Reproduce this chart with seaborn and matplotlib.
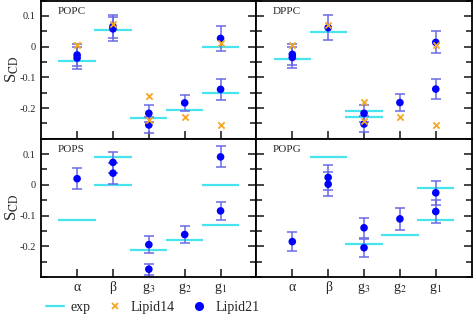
import numpy as np
import pandas as pd
import matplotlib
matplotlib.use("Agg")
import matplotlib.pyplot as plt
import seaborn as sns
from matplotlib.lines import Line2D
from matplotlib.ticker import MultipleLocator

sns.set_style("ticks")
plt.rcParams['font.family'] = ['Liberation Serif', 'DejaVu Serif']
plt.rcParams['mathtext.fontset'] = 'stix'

categories = ['alpha', 'beta', 'g3', 'g2', 'g1']
tick_labels = ['α', 'β', r'g$_3$', r'g$_2$', r'g$_1$']
panels = ['POPC', 'DPPC', 'POPS', 'POPG']

# experimental values
popc_exp_cat = ['alpha', 'beta', 'g3', 'g2', 'g1', 'g1']
popc_exp_val = [-0.046, 0.055, -0.232, -0.207, 0.0, -0.150]
dppc_exp_cat = ['alpha', 'beta', 'g3', 'g3']
dppc_exp_val = [-0.041, 0.049, -0.211, -0.230]
pops_exp_cat = ['alpha', 'beta', 'beta', 'g3', 'g2', 'g1', 'g1']
pops_exp_val = [-0.113, 0.090, 0.0, -0.211, -0.180, 0.0, -0.131]
popg_exp_cat = ['beta', 'g3', 'g2', 'g1', 'g1']
popg_exp_val = [0.090, -0.192, -0.162, -0.011, -0.113]

# Lipid14
popc_l14_cat = ['alpha', 'beta', 'g3', 'g3', 'g2', 'g1', 'g1']
popc_l14_val = [0.004, 0.075, -0.161, -0.240, -0.228, 0.011, -0.255]
dppc_l14_cat = ['alpha', 'beta', 'g3', 'g3', 'g2', 'g1', 'g1']
dppc_l14_val = [0.004, 0.071, -0.179, -0.241, -0.230, 0.005, -0.255]

# Lipid21
popc_l21_cat = ['alpha', 'alpha', 'beta', 'beta', 'g3', 'g3', 'g2', 'g1', 'g1']
popc_l21_val = [-0.027, -0.037, 0.066, 0.058, -0.217, -0.255, -0.183, 0.027, -0.139]
popc_l21_err = [0.035, 0.035, 0.038, 0.040, 0.027, 0.025, 0.026, 0.041, 0.034]
dppc_l21_cat = ['alpha', 'alpha', 'beta', 'g3', 'g3', 'g2', 'g1', 'g1']
dppc_l21_val = [-0.025, -0.035, 0.062, -0.217, -0.252, -0.182, 0.014, -0.138]
dppc_l21_err = [0.035, 0.035, 0.040, 0.028, 0.026, 0.027, 0.036, 0.032]
pops_l21_cat = ['alpha', 'beta', 'beta', 'g3', 'g3', 'g2', 'g1', 'g1']
pops_l21_val = [0.020, 0.073, 0.038, -0.195, -0.275, -0.162, 0.091, -0.085]
pops_l21_err = [0.034, 0.033, 0.034, 0.028, 0.018, 0.027, 0.034, 0.030]
popg_l21_cat = ['alpha', 'beta', 'beta', 'g3', 'g3', 'g2', 'g1', 'g1']
popg_l21_val = [-0.185, 0.024, 0.002, -0.140, -0.205, -0.111, -0.026, -0.087]
popg_l21_err = [0.030, 0.042, 0.040, 0.032, 0.030, 0.036, 0.040, 0.038]

exp_data = {'POPC': (popc_exp_cat, popc_exp_val), 'DPPC': (dppc_exp_cat, dppc_exp_val),
            'POPS': (pops_exp_cat, pops_exp_val), 'POPG': (popg_exp_cat, popg_exp_val)}
l14_data = {'POPC': (popc_l14_cat, popc_l14_val), 'DPPC': (dppc_l14_cat, dppc_l14_val)}
l21_data = {'POPC': (popc_l21_cat, popc_l21_val, popc_l21_err),
            'DPPC': (dppc_l21_cat, dppc_l21_val, dppc_l21_err),
            'POPS': (pops_l21_cat, pops_l21_val, pops_l21_err),
            'POPG': (popg_l21_cat, popg_l21_val, popg_l21_err)}

pos = {c: i + 1 for i, c in enumerate(categories)}

EXP_C = '#48e4ee'
L14_C = '#f5a623'
L21_C = '#0000ff'
ERR_C = '#6a6ae6'

fig, axes = plt.subplots(2, 2, figsize=(4.74, 3.25), dpi=100, sharex=True, sharey=True)
fig.subplots_adjust(left=0.087, right=0.995, top=0.998, bottom=0.148, wspace=0, hspace=0)

for ax, name in zip(axes.flat, panels):
    ecat, evals = exp_data[name]
    ex = np.array([pos[c] for c in ecat])
    ax.hlines(evals, ex - 0.52, ex + 0.52, colors=EXP_C, lw=1.6, zorder=2)
    cat, vals, errs = l21_data[name]
    x = [pos[c] for c in cat]
    ax.errorbar(x, vals, yerr=errs, fmt='none', ecolor=ERR_C, elinewidth=1.1,
                capsize=3.4, capthick=1.1, zorder=3)
    df21 = pd.DataFrame({'x': x, 'y': vals})
    sns.scatterplot(data=df21, x='x', y='y', ax=ax, color=L21_C, s=30,
                    edgecolor='none', zorder=4, legend=False)
    if name in l14_data:
        c14, v14 = l14_data[name]
        df14 = pd.DataFrame({'x': [pos[c] for c in c14], 'y': v14})
        sns.scatterplot(data=df14, x='x', y='y', ax=ax, color=L14_C, marker='x',
                        s=20, linewidth=1.3, zorder=5, legend=False)
    ax.text(0.075, 0.955, name, transform=ax.transAxes, fontsize=8, va='top', ha='left')
    ax.set_xlim(0, 6)
    ax.set_ylim(-0.3, 0.15)
    ax.set_xticks(range(1, 6))
    ax.set_xticklabels(tick_labels, fontsize=10)
    ax.yaxis.set_major_locator(MultipleLocator(0.1))
    ax.yaxis.set_minor_locator(MultipleLocator(0.05))
    ax.set_yticks([-0.2, -0.1, 0.0, 0.1])
    ax.set_yticklabels(['-0.2', '-0.1', '0', '0.1'], fontsize=7.5)
    ax.tick_params(axis='y', which='both', direction='in', left=True, right=True, pad=4)
    ax.tick_params(axis='y', which='major', length=6, width=1.2)
    ax.tick_params(axis='y', which='minor', length=4, width=1.2)
    ax.tick_params(axis='x', direction='in', length=6, width=1.2, top=False, bottom=True, pad=3)
    ax.set_xlabel('')
    ax.set_ylabel('')
    for s in ax.spines.values():
        s.set_linewidth(1.3)
        s.set_color('black')
        s.set_visible(True)

for ax in axes[:, 0]:
    ax.set_ylabel(r'S$_{\mathrm{CD}}$', fontsize=12, rotation=90, va='center', ha='center')
    ax.yaxis.set_label_coords(-0.135, 0.5)
for ax in axes[0, :]:
    ax.tick_params(axis='x', labelbottom=False)
for ax in axes[:, 1]:
    ax.tick_params(axis='y', labelleft=False)

handles = [Line2D([], [], color=EXP_C, lw=1.6),
           Line2D([], [], color=L14_C, marker='x', ls='none', ms=5, mew=1.3),
           Line2D([], [], color=L21_C, marker='o', ls='none', ms=5.5)]
fig.legend(handles, ['exp', 'Lipid14', 'Lipid21'], loc='lower left', ncol=3,
           bbox_to_anchor=(0.07, -0.005), frameon=False, fontsize=10,
           handlelength=1.3, handletextpad=0.5, columnspacing=1.1)

fig.savefig('out.png', dpi=100)
